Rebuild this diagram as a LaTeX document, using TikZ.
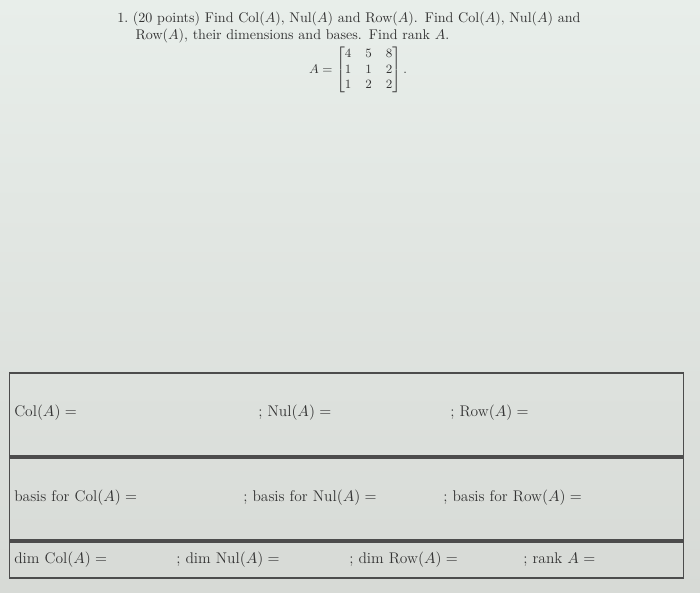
\documentclass[tikz,border=0pt]{standalone}
\usepackage{amsmath}
\begin{document}
\begin{tikzpicture}[x=0.025cm,y=-0.025cm,
  txt/.style={anchor=west,inner sep=0pt,font=\fontsize{11}{13}\selectfont,text=black!80},
  box/.style={draw=black!70,line width=0.8pt,inner sep=0pt,minimum width=16.825cm}]
\fill[top color={rgb,255:red,232;green,238;blue,234},bottom color={rgb,255:red,215;green,218;blue,214}] (0,0) rectangle (700,593);
\useasboundingbox (0,0) rectangle (700,593);
\node[anchor=north west,inner sep=0pt,text=black!80,text width=11.6cm,align=left] (q) at (117,12) {1.\ (20 points) Find Col$(A)$, Nul$(A)$ and Row$(A)$. Find Col$(A)$, Nul$(A)$ and\\\hspace*{1.3em}Row$(A)$, their dimensions and bases. Find rank $A$.};
\node[inner sep=0pt,font=\small,text=black!80] (m) at (358,70) {$A=\begin{bmatrix}4&5&8\\1&1&2\\1&2&2\end{bmatrix}.$};
\node[box,minimum height=2.075cm] (r1) at (346.5,414.5) {};
\node[box,minimum height=2.05cm] (r2) at (346.5,499) {};
\node[box,minimum height=0.9cm] (r3) at (346.5,560) {};
\node[txt] (c) at (14,413) {Col$(A)=$};
\node[txt] (n) at (258,413) {; Nul$(A)=$};
\node[txt] (r) at (450,413) {; Row$(A)=$};
\node[txt] (bc) at (14,498) {basis for Col$(A)=$};
\node[txt] (bn) at (243,498) {; basis for Nul$(A)=$};
\node[txt] (br) at (443,498) {; basis for Row$(A)=$};
\node[txt] (dc) at (14,560) {dim Col$(A)=$};
\node[txt] (dn) at (176,560) {; dim Nul$(A)=$};
\node[txt] (dr) at (349,560) {; dim Row$(A)=$};
\node[txt] (rk) at (523,560) {; rank $A=$};
\end{tikzpicture}
\end{document}
